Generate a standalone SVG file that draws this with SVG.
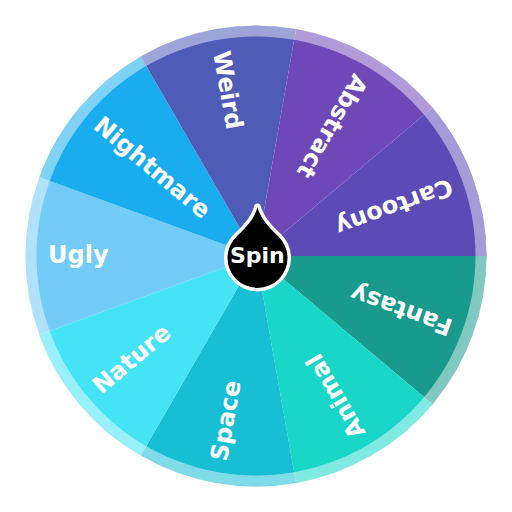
<svg xmlns="http://www.w3.org/2000/svg" width="512" height="512" viewBox="0 0 512 512">
<style>
.lbl{font-family:"DejaVu Sans","Noto Sans",sans-serif;font-weight:bold;font-size:24px;fill:#fff}
.spin{font-family:"DejaVu Sans","Noto Sans",sans-serif;font-weight:bold;font-size:22px;fill:#fff}
</style>
<rect width="512" height="512" fill="#fff"/>
<g id="wheel">
<g id="fantasy"><path d="M256,256 L486.5,256 A230.5,230.5 0 0 1 432.57,404.16 Z" fill="#189B8C"/><text class="lbl" transform="translate(451.5,327.1) rotate(200)" y="7">Fantasy</text></g>
<g id="animal"><path d="M256,256 L432.57,404.16 A230.5,230.5 0 0 1 296.03,483 Z" fill="#18D7C8"/><text class="lbl" transform="translate(360,436.1) rotate(240)" y="7">Animal</text></g>
<g id="space"><path d="M256,256 L296.03,483 A230.5,230.5 0 0 1 140.75,455.62 Z" fill="#17BED4"/><text class="lbl" transform="translate(219.9,460.8) rotate(280)" y="7">Space</text></g>
<g id="nature"><path d="M256,256 L140.75,455.62 A230.5,230.5 0 0 1 39.4,334.84 Z" fill="#44E3F6"/><text class="lbl" transform="translate(96.7,389.7) rotate(320)" y="7">Nature</text></g>
<g id="ugly"><path d="M256,256 L39.4,334.84 A230.5,230.5 0 0 1 39.4,177.16 Z" fill="#73CBF7"/><text class="lbl" transform="translate(48,256) rotate(0)" y="7">Ugly</text></g>
<g id="nightmare"><path d="M256,256 L39.4,177.16 A230.5,230.5 0 0 1 140.75,56.38 Z" fill="#19ACEE"/><text class="lbl" transform="translate(96.7,122.3) rotate(40)" y="7">Nightmare</text></g>
<g id="weird"><path d="M256,256 L140.75,56.38 A230.5,230.5 0 0 1 296.03,29 Z" fill="#4E5CB8"/><text class="lbl" transform="translate(219.9,51.2) rotate(80)" y="7">Weird</text></g>
<g id="abstract"><path d="M256,256 L296.03,29 A230.5,230.5 0 0 1 432.57,107.84 Z" fill="#6F48B7"/><text class="lbl" transform="translate(360,75.9) rotate(120)" y="7">Abstract</text></g>
<g id="cartoony"><path d="M256,256 L432.57,107.84 A230.5,230.5 0 0 1 486.5,256 Z" fill="#5C4BB6"/><text class="lbl" transform="translate(451.5,184.9) rotate(160)" y="7">Cartoony</text></g>
<circle id="rim" cx="256" cy="256" r="225" fill="none" stroke="#fff" stroke-opacity="0.45" stroke-width="11"/>
</g>
<g id="spin-button">
<path d="M257.5,207 C259.5,216 267,226 278,236 A30,30 0 1 1 237,236 C248,226 255.5,216 257.5,207 Z" fill="#fff" stroke="#fff" stroke-width="7" stroke-linejoin="round"/>
<path d="M257.5,207 C259.5,216 267,226 278,236 A30,30 0 1 1 237,236 C248,226 255.5,216 257.5,207 Z" fill="#000"/>
<text class="spin" x="257.3" y="262.5" text-anchor="middle">Spin</text>
</g>
</svg>
